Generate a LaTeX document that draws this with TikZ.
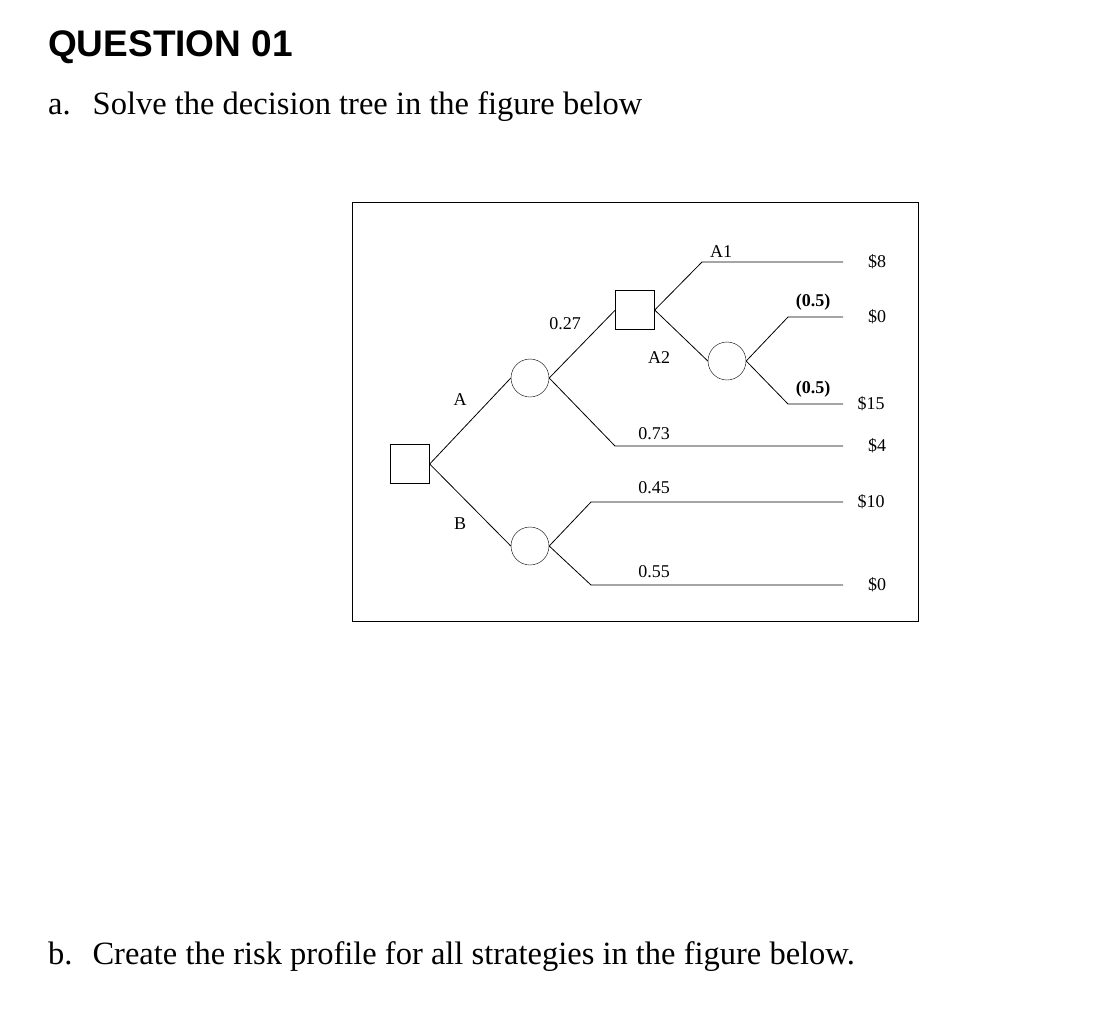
\documentclass[tikz,border=0pt]{standalone}
\usepackage{fontspec}
\setmainfont{Liberation Serif}
\newfontfamily\hsans{Liberation Sans}
\begin{document}
\begin{tikzpicture}[x=1pt,y=-1pt,
  dec/.style={draw,minimum size=39pt,inner sep=0pt},
  chn/.style={draw,circle,minimum size=38pt,inner sep=0pt},
  br/.style={line width=0.8pt},
  lbl/.style={font=\fontsize{18}{18}\selectfont,inner sep=0pt},
  blbl/.style={font=\bfseries\fontsize{18}{18}\selectfont,inner sep=0pt}]
\useasboundingbox (0,0) rectangle (1118,1010);
\node[anchor=west,inner sep=0pt,font=\hsans\bfseries\fontsize{37}{37}\selectfont] (q) at (48,47) {QUESTION 01};
\node[anchor=west,inner sep=0pt,font=\fontsize{32.5}{32.5}\selectfont] (ta) at (48,107) {a.\hspace{22pt}Solve the decision tree in the figure below};
\node[anchor=west,inner sep=0pt,font=\fontsize{32.5}{32.5}\selectfont] (tb) at (48,957) {b.\hspace{20pt}Create the risk profile for all strategies in the figure below.};
\draw[line width=1pt] (352,202) rectangle (918,621);
\node[dec] (r) at (410,464) {};
\node[chn] (ca) at (530,378) {};
\node[chn] (cb) at (530,546) {};
\node[dec] (d) at (635,310) {};
\node[chn] (c2) at (727,361) {};
\coordinate (e1) at (702,262); \coordinate (f1) at (843,262);
\coordinate (e2) at (788,317); \coordinate (f2) at (843,317);
\coordinate (e3) at (788,404); \coordinate (f3) at (843,404);
\coordinate (e4) at (615,446); \coordinate (f4) at (843,446);
\coordinate (e5) at (591,502); \coordinate (f5) at (843,502);
\coordinate (e6) at (591,585); \coordinate (f6) at (843,585);
\draw[br] (r.east) -- (ca.west);
\draw[br] (r.east) -- (cb.west);
\draw[br] (ca.east) -- (d.west);
\draw[br] (ca.east) -- (e4) -- (f4);
\draw[br] (d.east) -- (e1) -- (f1);
\draw[br] (d.east) -- (c2.west);
\draw[br] (c2.east) -- (e2) -- (f2);
\draw[br] (c2.east) -- (e3) -- (f3);
\draw[br] (cb.east) -- (e5) -- (f5);
\draw[br] (cb.east) -- (e6) -- (f6);
\node[lbl] (la) at (460,400) {A};
\node[lbl] (lb) at (460,524) {B};
\node[lbl] (l27) at (565,324) {0.27};
\node[lbl] (la2) at (659,358) {A2};
\node[lbl] (la1) at (721,252) {A1};
\node[lbl] (l73) at (654,434) {0.73};
\node[lbl] (l45) at (654,488) {0.45};
\node[lbl] (l55) at (654,572) {0.55};
\node[blbl] (p1) at (813,302) {(0.5)};
\node[blbl] (p2) at (813,389) {(0.5)};
\node[lbl] (v1) at (877,262) {\$8};
\node[lbl] (v2) at (877,317) {\$0};
\node[lbl] (v3) at (871,404) {\$15};
\node[lbl] (v4) at (877,446) {\$4};
\node[lbl] (v5) at (871,502) {\$10};
\node[lbl] (v6) at (877,585) {\$0};
\end{tikzpicture}
\end{document}
